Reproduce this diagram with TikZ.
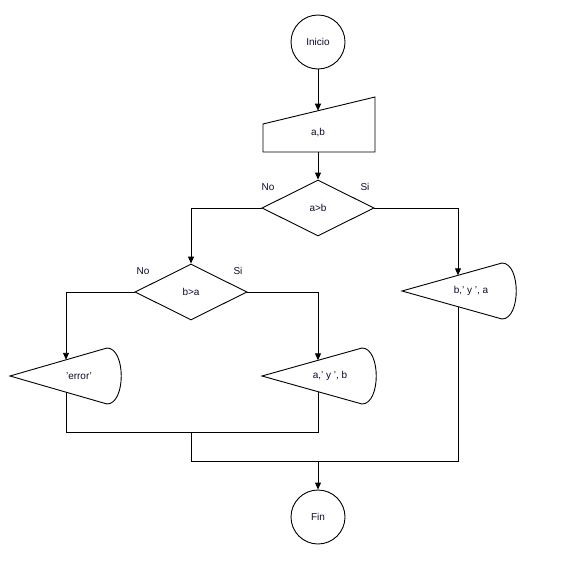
\documentclass[tikz,border=0pt]{standalone}
\usepackage{fontspec}
\setmainfont{Liberation Sans}
\usetikzlibrary{shapes.geometric,arrows.meta}
\definecolor{txt}{RGB}{12,12,48}
\begin{document}
\begin{tikzpicture}[x=1pt,y=-1pt,
  every node/.style={font=\fontsize{10}{12}\selectfont, text=txt},
  shp/.style={draw=black, line width=0.9pt, fill=white},
  term/.style={shp, circle, minimum size=54pt, inner sep=0pt},
  dec/.style={shp, diamond, minimum width=112pt, minimum height=56pt, inner sep=0pt},
  ln/.style={draw=black, line width=0.9pt},
  arr/.style={ln, -{Triangle[length=7pt,width=6pt]}},
  lbl/.style={inner sep=0pt}]
\useasboundingbox (0,0) rectangle (560,578);
\fill[white] (0,0) rectangle (560,578);

% terminals
\node[term] (ini) at (318,42) {Inicio};
\node[term] (fin) at (318,517) {Fin};

% manual input
\path[shp] (263,124) -- (375,97) -- (375,152) -- (263,152) -- cycle;
\node[lbl] (ab) at (318,133) {a,b};
\coordinate (inTop) at (318,110.7);
\coordinate (inBot) at (318,152);

% decisions
\node[dec] (d1) at (318,208) {a>b};
\node[dec] (d2) at (191,292) {b>a};
\node[lbl] (no1) at (268,187) {No};
\node[lbl] (si1) at (365,187) {Si};
\node[lbl] (no2) at (143,271) {No};
\node[lbl] (si2) at (238,271) {Si};

% display shapes
\path[shp] (10,376) -- (107,348) .. controls (126,348) and (126,404) .. (107,404) -- cycle;
\node[lbl] (err) at (79,376) {'error'};
\path[shp] (262,376) -- (362,348) .. controls (381,348) and (381,404) .. (362,404) -- cycle;
\node[lbl] (ayb) at (330,376) {a,' y ', b};
\path[shp] (402,291) -- (502,263) .. controls (521,263) and (521,319) .. (502,319) -- cycle;
\node[lbl] (bya) at (471,291) {b,' y ', a};

\coordinate (errTop) at (66,359.8);
\coordinate (errBot) at (66,392.2);
\coordinate (aybTop) at (318,360.3);
\coordinate (aybBot) at (318,391.7);
\coordinate (byaTop) at (458,275.3);
\coordinate (byaBot) at (458,306.7);
\coordinate (j1L) at (66,432);
\coordinate (j1M) at (191,432);
\coordinate (j1R) at (318,432);
\coordinate (j2L) at (191,461);
\coordinate (j2M) at (318,461);
\coordinate (j2R) at (458,461);

% connectors
\draw[arr] (ini.south) -- (inTop);
\draw[arr] (inBot) -- (d1.north);
\draw[arr] (d1.west) -| (d2.north);
\draw[arr] (d1.east) -| (byaTop);
\draw[arr] (d2.west) -| (errTop);
\draw[arr] (d2.east) -| (aybTop);
\draw[ln] (errBot) -- (j1L) -- (j1R) -- (aybBot);
\draw[ln] (j1M) -- (j2L) -- (j2R) -- (byaBot);
\draw[arr] (j2M) -- (fin.north);
\end{tikzpicture}
\end{document}
